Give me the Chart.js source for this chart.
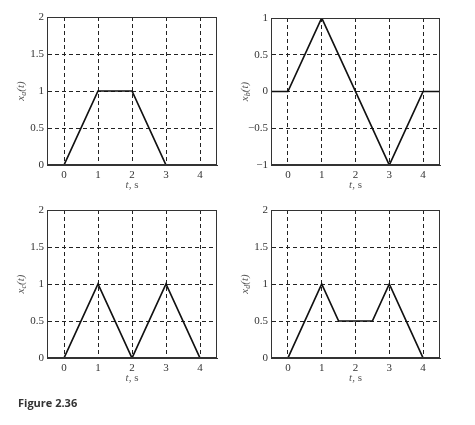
<!DOCTYPE html>
<html>
<head>
<meta charset="utf-8">
<script src="https://cdn.jsdelivr.net/npm/chart.js"></script>
<style>
  body { margin: 0; background: #fff; }
  #wrap { position: relative; width: 475px; height: 425px; background: #fff; }
  #wrap canvas { position: absolute; }
  #fig-caption { position: absolute; left: 18px; top: 395px; font: bold 11px "Open Sans", sans-serif; color: #333; }
</style>
</head>
<body>
<div id="wrap">
  <canvas id="chart-a" width="230" height="200" style="left:0;top:0"></canvas>
  <canvas id="chart-b" width="230" height="200" style="left:235px;top:0"></canvas>
  <canvas id="chart-c" width="230" height="200" style="left:0;top:195px"></canvas>
  <canvas id="chart-d" width="230" height="200" style="left:235px;top:195px"></canvas>
  <div id="fig-caption">Figure 2.36</div>
</div>

<script>
// signal values (t in seconds)
const tA = [0, 1, 2, 3];
const xA = [0, 1, 1, 0];
const tB = [-0.5, 0, 1, 3, 4, 4.5];
const xB = [0, 0, 1, -1, 0, 0];
const tC = [0, 1, 2, 3, 4];
const xC = [0, 1, 0, 1, 0];
const tD = [0, 1, 1.5, 2.5, 3, 4];
const xD = [0, 1, 0.5, 0.5, 1, 0];

const tTicks = [0, 1, 2, 3, 4];
const yTicksPos = [0, 0.5, 1, 1.5, 2];
const yTicksSym = [-1, -0.5, 0, 0.5, 1];

const serif = '"Liberation Serif", "Times New Roman", serif';

function fmt(v) {
  return v < 0 ? '\u2212' + Math.abs(v) : String(v);
}

// box around plot + axis titles with italic/subscript
const framePlugin = {
  id: 'frame',
  afterDraw(chart, args, opts) {
    const ctx = chart.ctx;
    const a = chart.chartArea;
    ctx.save();
    ctx.strokeStyle = '#333';
    ctx.lineWidth = 1;
    ctx.strokeRect(Math.round(a.left) + 0.5, Math.round(a.top) + 0.5,
      Math.round(a.right) - Math.round(a.left) - 1, Math.round(a.bottom) - Math.round(a.top) - 1);

    ctx.fillStyle = '#555';
    ctx.textBaseline = 'middle';
    ctx.textAlign = 'left';

    // x title: "t, s"
    const cx = (a.left + a.right) / 2;
    const ty = a.bottom + 20;
    ctx.font = 'italic 11px ' + serif;
    const w1 = ctx.measureText('t').width;
    ctx.font = '11px ' + serif;
    const w2 = ctx.measureText(', s').width;
    let px = cx - (w1 + w2) / 2;
    ctx.font = 'italic 11px ' + serif;
    ctx.fillText('t', px, ty);
    ctx.font = '11px ' + serif;
    ctx.fillText(', s', px + w1, ty);

    // y title: x_sub(t), rotated
    ctx.translate(a.left - 26, (a.top + a.bottom) / 2);
    ctx.rotate(-Math.PI / 2);
    ctx.font = 'italic 11px ' + serif;
    const wx = ctx.measureText('x').width;
    const wp = ctx.measureText('(t)').width;
    ctx.font = 'italic 8px ' + serif;
    const ws = ctx.measureText(opts.sub).width;
    px = -(wx + ws + wp) / 2;
    ctx.font = 'italic 11px ' + serif;
    ctx.fillText('x', px, 0);
    ctx.font = 'italic 8px ' + serif;
    ctx.fillText(opts.sub, px + wx, 3);
    ctx.font = 'italic 11px ' + serif;
    ctx.fillText('(t)', px + wx + ws, 0);
    ctx.restore();
  }
};

function makePanel(id, t, x, yMin, yMax, yTicks, sub, box) {
  const pts = t.map((v, i) => ({ x: v, y: x[i] }));
  return new Chart(document.getElementById(id), {
    type: 'line',
    data: {
      datasets: [{
        data: pts,
        borderColor: '#111',
        borderWidth: 1.7,
        pointRadius: 0,
        tension: 0,
        fill: false
      }]
    },
    options: {
      responsive: false,
      animation: false,
      events: [],
      layout: { padding: { left: 0, top: box.top, right: box.right, bottom: 0 } },
      plugins: {
        legend: { display: false },
        tooltip: { enabled: false },
        frame: { sub: sub }
      },
      scales: {
        x: {
          type: 'linear',
          min: -0.5,
          max: 4.5,
          afterBuildTicks: s => { s.ticks = tTicks.map(v => ({ value: v })); },
          afterFit: s => { s.height = box.xh; },
          grid: { color: '#222', lineWidth: 1, drawTicks: false },
          border: { color: '#333', dash: [4, 3] },
          ticks: { padding: 4, color: '#333', font: { family: serif, size: 11 }, callback: v => fmt(v), maxRotation: 0 }
        },
        y: {
          type: 'linear',
          min: yMin,
          max: yMax,
          afterBuildTicks: s => { s.ticks = yTicks.map(v => ({ value: v })); },
          afterFit: s => { s.width = box.yw; },
          grid: { color: '#222', lineWidth: 1, drawTicks: false },
          border: { color: '#333', dash: [4, 3] },
          ticks: { padding: 3, color: '#333', font: { family: serif, size: 11 }, callback: v => fmt(v) }
        }
      }
    },
    plugins: [framePlugin]
  });
}

makePanel('chart-a', tA, xA, 0, 2, yTicksPos, 'a', { top: 17, right: 13, yw: 47, xh: 35 });
makePanel('chart-b', tB, xB, -1, 1, yTicksSym, 'b', { top: 18, right: 25, yw: 36, xh: 35 });
makePanel('chart-c', tC, xC, 0, 2, yTicksPos, 'c', { top: 15, right: 13, yw: 47, xh: 37 });
makePanel('chart-d', tD, xD, 0, 2, yTicksPos, 'd', { top: 15, right: 25, yw: 36, xh: 37 });
</script>
</body>
</html>
